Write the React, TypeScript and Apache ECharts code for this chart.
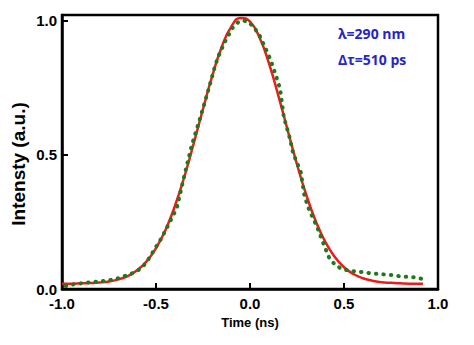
import React, { useEffect, useRef } from "react";
import * as echarts from "echarts";

// Fit curve (red)
const fitTime = [
  -1.0, -0.95, -0.9, -0.85, -0.8, -0.75, -0.7, -0.65, -0.6, -0.55, -0.5, -0.45, -0.4, -0.35, -0.3,
  -0.25, -0.2, -0.15, -0.1, -0.05, 0.0, 0.05, 0.1, 0.15, 0.2, 0.25, 0.3, 0.35, 0.4, 0.45, 0.5,
  0.55, 0.6, 0.65, 0.7, 0.75, 0.8, 0.85, 0.9, 0.92,
];
const fitValue = [
  0.02, 0.02, 0.021, 0.022, 0.024, 0.028, 0.036, 0.048, 0.07, 0.103, 0.152, 0.219, 0.308, 0.416,
  0.54, 0.67, 0.795, 0.902, 0.976, 1.009, 0.995, 0.937, 0.842, 0.722, 0.592, 0.464, 0.349, 0.252,
  0.176, 0.12, 0.081, 0.056, 0.04, 0.031, 0.025, 0.023, 0.021, 0.02, 0.02, 0.02,
];

// Measured data (green dotted)
const dataTime = [
  -0.98, -0.94, -0.9, -0.86, -0.82, -0.78, -0.74, -0.7, -0.66, -0.62, -0.58, -0.55, -0.51, -0.47,
  -0.43, -0.39, -0.35, -0.31, -0.27, -0.23, -0.19, -0.17, -0.13, -0.09, -0.06, -0.04, -0.01, 0.02,
  0.05, 0.08, 0.11, 0.14, 0.16, 0.18, 0.21, 0.23, 0.27, 0.29, 0.315, 0.36, 0.39, 0.42, 0.44, 0.46,
  0.5, 0.555, 0.605, 0.65, 0.7, 0.75, 0.81, 0.855, 0.885, 0.915,
];
const dataValue = [
  0.011, 0.017, 0.021, 0.024, 0.027, 0.03, 0.034, 0.04, 0.05, 0.06, 0.076, 0.1, 0.145, 0.19, 0.245,
  0.3, 0.42, 0.535, 0.625, 0.72, 0.82, 0.864, 0.925, 0.975, 0.995, 1.0, 0.995, 0.975, 0.945, 0.9,
  0.852, 0.79, 0.745, 0.64, 0.566, 0.504, 0.436, 0.345, 0.294, 0.226, 0.17, 0.118, 0.1, 0.085,
  0.072, 0.066, 0.062, 0.058, 0.055, 0.052, 0.046, 0.045, 0.042, 0.038,
];

const xTicks = [-1.0, -0.5, 0.0, 0.5, 1.0];
const yTicks = [0.0, 0.5, 1.0];
const annotations = ["λ=290 nm", "Δτ=510 ps"];
const xTitle = "Time (ns)";
const yTitle = "Intensty (a.u.)";

const FONT = "'Liberation Sans', Arial, sans-serif";
const ANNO_FONT = "'Open Sans', 'Noto Sans', sans-serif";

export default function App() {
  const ref = useRef<HTMLDivElement>(null);
  useEffect(() => {
    if (!ref.current) return;
    const chart = echarts.init(ref.current, undefined, { renderer: "svg" });
    const isTick = (v: number, list: number[]) => list.some((t) => Math.abs(t - v) < 1e-6);
    chart.setOption({
      animation: false,
      backgroundColor: "#fff",
      grid: {
        left: 62,
        right: 36,
        top: 15,
        bottom: 56,
        containLabel: false,
        show: true,
        borderColor: "#000",
        borderWidth: 2.5,
      },
      xAxis: {
        type: "value",
        min: -1,
        max: 1,
        interval: 0.5,
        name: xTitle,
        nameLocation: "middle",
        nameGap: 24,
        nameTextStyle: { fontFamily: FONT, fontWeight: "bold", fontSize: 13, color: "#000" },
        axisLine: { show: true, onZero: false, lineStyle: { color: "#000", width: 2.5 } },
        axisTick: { show: true, inside: true, length: 6, lineStyle: { color: "#000", width: 2 } },
        splitLine: { show: false },
        axisLabel: {
          margin: 7,
          fontFamily: FONT,
          fontWeight: "bold",
          fontSize: 15,
          color: "#000",
          formatter: (v: number) => (isTick(v, xTicks) ? v.toFixed(1) : ""),
        },
      },
      yAxis: {
        type: "value",
        min: 0,
        max: 1.02,
        interval: 0.5,
        axisLine: { show: true, onZero: false, lineStyle: { color: "#000", width: 2.5 } },
        axisTick: { show: true, inside: true, length: 6, lineStyle: { color: "#000", width: 2 } },
        splitLine: { show: false },
        axisLabel: {
          margin: 5,
          fontFamily: FONT,
          fontWeight: "bold",
          fontSize: 15,
          color: "#000",
          showMaxLabel: false,
          formatter: (v: number) => (isTick(v, yTicks) ? v.toFixed(1) : ""),
        },
      },
      graphic: [
        {
          type: "text",
          x: 18,
          y: 164,
          rotation: Math.PI / 2,
          style: {
            text: yTitle,
            font: `bold 19px ${FONT}`,
            fill: "#000",
            align: "center",
            verticalAlign: "middle",
          },
        },
        {
          type: "text",
          x: 338,
          y: 33,
          style: {
            text: annotations[0],
            font: `bold 14px ${ANNO_FONT}`,
            fill: "#2525c8",
            align: "left",
            verticalAlign: "middle",
          },
        },
        {
          type: "text",
          x: 338,
          y: 59,
          style: {
            text: annotations[1],
            font: `bold 14px ${ANNO_FONT}`,
            fill: "#2525c8",
            align: "left",
            verticalAlign: "middle",
          },
        },
      ],
      series: [
        {
          type: "line",
          data: fitTime.map((t, i) => [t, fitValue[i]]),
          smooth: true,
          showSymbol: false,
          lineStyle: { color: "#ee1b1b", width: 2.5 },
          z: 2,
        },
        {
          type: "line",
          data: dataTime.map((t, i) => [t, dataValue[i]]),
          smooth: false,
          showSymbol: false,
          lineStyle: { color: "#1d7a1d", width: 4, type: [0.5, 7], cap: "round" },
          z: 3,
        },
      ],
    });
    return () => chart.dispose();
  }, []);
  return (
    <div
      ref={ref}
      style={{ position: "absolute", left: 0, top: 0, width: 474, height: 345 }}
    />
  );
}
